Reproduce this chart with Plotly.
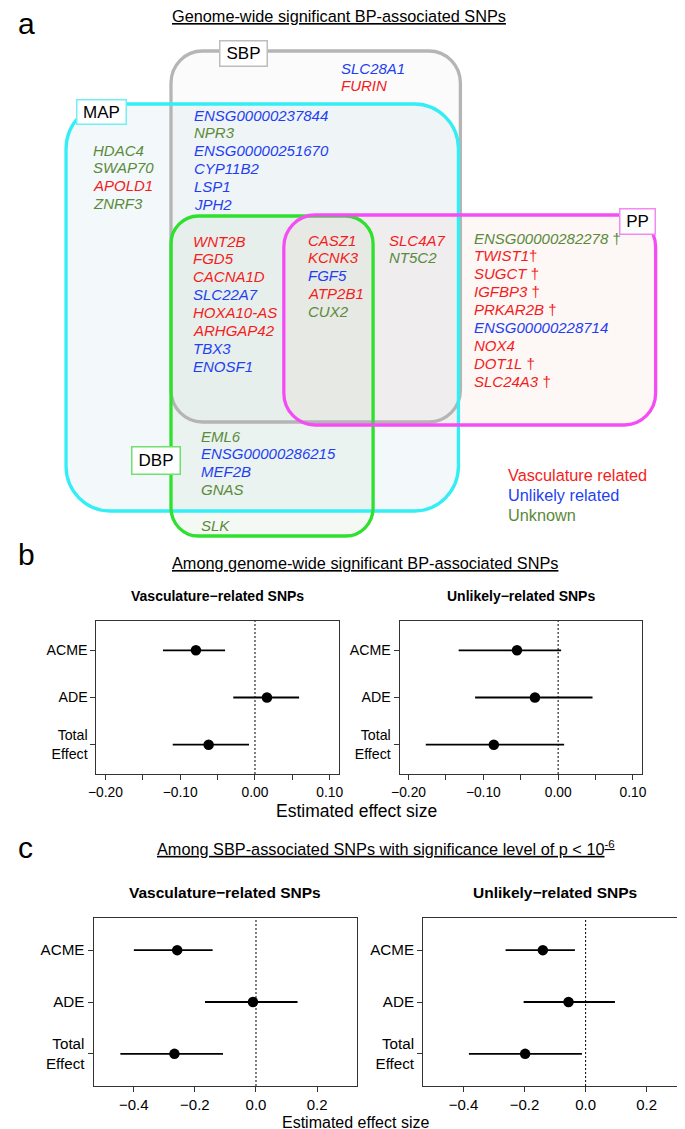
import plotly.graph_objects as go

W, H = 685, 1129
FONT = "Liberation Sans, Arial, sans-serif"

# ---------------- Panel a data: genes per Venn region ----------------
# class codes: V = vasculature related, U = unlikely related, K = unknown
sbp_only_genes = ["SLC28A1", "FURIN"]
sbp_only_class = ["U", "V"]
sbp_map_genes = ["ENSG00000237844", "NPR3", "ENSG00000251670", "CYP11B2", "LSP1", "JPH2"]
sbp_map_class = ["U", "K", "U", "U", "U", "U"]
map_only_genes = ["HDAC4", "SWAP70", "APOLD1", "ZNRF3"]
map_only_class = ["K", "K", "V", "K"]
sbp_map_dbp_genes = ["WNT2B", "FGD5", "CACNA1D", "SLC22A7", "HOXA10-AS", "ARHGAP42", "TBX3", "ENOSF1"]
sbp_map_dbp_class = ["V", "V", "V", "U", "V", "V", "U", "U"]
all_four_genes = ["CASZ1", "KCNK3", "FGF5", "ATP2B1", "CUX2"]
all_four_class = ["V", "V", "U", "V", "K"]
sbp_map_pp_genes = ["SLC4A7", "NT5C2"]
sbp_map_pp_class = ["V", "K"]
pp_only_genes = ["ENSG00000282278 †", "TWIST1†", "SUGCT †", "IGFBP3 †", "PRKAR2B †",
                 "ENSG00000228714", "NOX4", "DOT1L †", "SLC24A3 †"]
pp_only_class = ["K", "V", "V", "V", "V", "U", "V", "V", "V"]
map_dbp_genes = ["EML6", "ENSG00000286215", "MEF2B", "GNAS"]
map_dbp_class = ["K", "U", "U", "K"]
dbp_only_genes = ["SLK"]
dbp_only_class = ["K"]

class_codes = ["V", "U", "K"]
class_names = ["Vasculature related", "Unlikely related", "Unknown"]
set_names = ["SBP", "MAP", "PP", "DBP"]

# ---------------- Panels b, c data ----------------
effect_labels = ["ACME", "ADE", "Total<br>Effect"]
effect_pos = [3, 2, 1]

b_vasc_est = [-0.079, 0.016, -0.062]
b_vasc_lo = [-0.123, -0.029, -0.110]
b_vasc_hi = [-0.040, 0.059, -0.008]
b_unl_est = [-0.055, -0.031, -0.086]
b_unl_lo = [-0.133, -0.111, -0.177]
b_unl_hi = [0.004, 0.046, 0.008]

c_vasc_est = [-0.258, -0.010, -0.267]
c_vasc_lo = [-0.400, -0.167, -0.444]
c_vasc_hi = [-0.142, 0.136, -0.108]
c_unl_est = [-0.140, -0.056, -0.198]
c_unl_lo = [-0.262, -0.203, -0.382]
c_unl_hi = [-0.035, 0.096, -0.012]

b_xlim = [-0.2, 0.1]
b_ticks = [-0.20, -0.10, 0.00, 0.10]
b_ticklabels = ["−0.20", "−0.10", "0.00", "0.10"]
b_minor_ticks = [-0.15, -0.05, 0.05]
c_xlim = [-0.5, 0.3]
c_ticks = [-0.4, -0.2, 0.0, 0.2]
c_ticklabels = ["−0.4", "−0.2", "0.0", "0.2"]
c_minor_ticks = []

# ---------------- styles / layout constants ----------------
CLASS_COLOR = {"V": "#f41c1c", "U": "#1f3ff2", "K": "#5b8a3c"}
LINE_STEP = 17.9
REGION_ANCHORS = [  # genes, classes, left x, first line y (canvas px)
    (sbp_only_genes, sbp_only_class, 329, 60),
    (sbp_map_genes, sbp_map_class, 179, 107),
    (map_only_genes, map_only_class, 76, 142),
    (sbp_map_dbp_genes, sbp_map_dbp_class, 178, 233),
    (all_four_genes, all_four_class, 296, 232),
    (sbp_map_pp_genes, sbp_map_pp_class, 378, 232),
    (pp_only_genes, pp_only_class, 465, 230),
    (map_dbp_genes, map_dbp_class, 187, 428),
    (dbp_only_genes, dbp_only_class, 187, 517),
]
SET_STYLE = {  # x0, y0, x1, y1, radius, line, fill, label box (cx, cy, w, h), label border
    "SBP": (158, 43, 453, 414, 32, "#b5b5b5", "rgba(190,190,190,0.06)", (231.5, 45.5, 49, 27), "#bdbdbd"),
    "MAP": (51, 96, 451, 503, 45, "#33eef5", "rgba(185,212,228,0.17)", (87.5, 104, 51, 26), "#70f0f5"),
    "PP": (273, 207, 652, 417, 32, "#f54df5", "rgba(240,190,175,0.13)", (633.5, 213.5, 37, 27), "#f28af2"),
    "DBP": (158, 208, 364, 528, 28, "#2fe02f", "rgba(190,212,180,0.15)", (143, 452.5, 50, 29), "#70e070"),
}
OUTLINE_ORDER = ["SBP", "MAP", "DBP", "PP"]


def rounded_rect_path(x0, y0, x1, y1, r):
    k = 0.5523 * r
    return (f"M {x0+r},{y0} L {x1-r},{y0} C {x1-r+k},{y0} {x1},{y0+r-k} {x1},{y0+r} "
            f"L {x1},{y1-r} C {x1},{y1-r+k} {x1-r+k},{y1} {x1-r},{y1} "
            f"L {x0+r},{y1} C {x0+r-k},{y1} {x0},{y1-r+k} {x0},{y1-r} "
            f"L {x0},{y0+r} C {x0},{y0+r-k} {x0+r-k},{y0} {x0+r},{y0} Z")


fig = go.Figure()
shapes = []
annotations = []

# canvas axis (pixel coordinates) for the diagram and texts
fig.add_trace(go.Scatter(x=[0], y=[0], xaxis="x5", yaxis="y5", mode="markers",
                         marker=dict(size=1, color="rgba(0,0,0,0)"),
                         showlegend=False, hoverinfo="skip"))


def canvas_text(x, y, text, size, color="black", xanchor="center", family=FONT, **kw):
    annotations.append(dict(x=x, y=y, xref="x5", yref="y5", text=text, showarrow=False,
                            xanchor=xanchor, yanchor="middle",
                            font=dict(family=family, size=size, color=color), **kw))


# set fills
for name in set_names:
    x0, y0, x1, y1, r, lc, fc, lab, lbc = SET_STYLE[name]
    shapes.append(dict(type="path", xref="x5", yref="y5", path=rounded_rect_path(x0, y0, x1, y1, r),
                       fillcolor=fc, line=dict(width=0)))
# set outlines
for name in OUTLINE_ORDER:
    x0, y0, x1, y1, r, lc, fc, lab, lbc = SET_STYLE[name]
    shapes.append(dict(type="path", xref="x5", yref="y5", path=rounded_rect_path(x0, y0, x1, y1, r),
                       fillcolor="rgba(0,0,0,0)", line=dict(width=3.3, color=lc)))
# set labels
for name in set_names:
    x0, y0, x1, y1, r, lc, fc, (cx, cy, bw, bh), lbc = SET_STYLE[name]
    canvas_text(cx, cy, name, 17, bgcolor="white", bordercolor=lbc, borderwidth=1.5,
                borderpad=0, width=bw - 3, height=bh - 3)

# gene names
for genes, classes, gx, gy in REGION_ANCHORS:
    for i, (g, c) in enumerate(zip(genes, classes)):
        if "†" in g:
            base = g.split("†")[0]
            sp = " " if base.endswith(" ") else ""
            txt = f"<i>{base.strip()}</i>{sp}†"
        else:
            txt = f"<i>{g}</i>"
        canvas_text(gx, gy + i * LINE_STEP, txt, 15, color=CLASS_COLOR[c], xanchor="left")

# legend
for i, (code, nm) in enumerate(zip(class_codes, class_names)):
    canvas_text(499, 467 + i * 20, nm, 16.3, color=CLASS_COLOR[code], xanchor="left")

# panel letters and titles
canvas_text(0, 15, "a", 30, xanchor="left")
canvas_text(0, 546.5, "b", 30, xanchor="left")
canvas_text(0, 839, "c", 30, xanchor="left")
canvas_text(157, 8, "<u>Genome-wide significant BP-associated SNPs</u>", 16.3, xanchor="left")
canvas_text(157, 555, "<u>Among genome-wide significant BP-associated SNPs</u>", 16.3, xanchor="left")
canvas_text(142, 840, "<u>Among SBP-associated SNPs with significance level of p &lt; 10<sup>-6</sup></u>",
            16.3, xanchor="left")

# ---------------- forest panels ----------------
PANELS = [  # est, lo, hi, xlim, ticks, labels, minor, box(px), title, title y, fonts
    (b_vasc_est, b_vasc_lo, b_vasc_hi, b_xlim, b_ticks, b_ticklabels, b_minor_ticks, (82, 613, 329, 766),
     "Vasculature−related SNPs", 588, 14, 13.8, 14.2),
    (b_unl_est, b_unl_lo, b_unl_hi, b_xlim, b_ticks, b_ticklabels, b_minor_ticks, (391, 613, 638, 766),
     "Unlikely−related SNPs", 588, 14, 13.8, 14.2),
    (c_vasc_est, c_vasc_lo, c_vasc_hi, c_xlim, c_ticks, c_ticklabels, c_minor_ticks, (79, 910, 348, 1078),
     "Vasculature−related SNPs", 884.5, 15.5, 15, 15.2),
    (c_unl_est, c_unl_lo, c_unl_hi, c_xlim, c_ticks, c_ticklabels, c_minor_ticks, (415, 910, 684, 1078),
     "Unlikely−related SNPs", 884.5, 15.5, 15, 15.2),
]
AXIS_COLOR = "#333333"
layout_axes = {}
for k, (est, lo, hi, xlim, tv, tt, mv, (bx0, by0, bx1, by1), title, ty, tfs, xfs, yfs) in enumerate(PANELS, start=1):
    xa = "x" if k == 1 else f"x{k}"
    ya = "y" if k == 1 else f"y{k}"
    fig.add_trace(go.Scatter(
        x=est, y=effect_pos, mode="markers", xaxis=xa, yaxis=ya, showlegend=False,
        marker=dict(size=10.5, color="black"),
        error_x=dict(type="data", symmetric=False,
                     array=[h - e for h, e in zip(hi, est)],
                     arrayminus=[e - l for e, l in zip(est, lo)],
                     width=0, thickness=1.8, color="black")))
    pad = 0.04 * (xlim[1] - xlim[0])
    common = dict(showline=True, mirror=True, linecolor=AXIS_COLOR, linewidth=1,
                  ticks="outside", ticklen=5, tickwidth=1, tickcolor=AXIS_COLOR,
                  showgrid=False, zeroline=False, fixedrange=True)
    xdef = dict(domain=[bx0 / W, bx1 / W], range=[xlim[0] - pad, xlim[1] + pad], anchor=ya,
                tickmode="array", tickvals=tv, ticktext=tt,
                tickfont=dict(family=FONT, size=xfs, color="black"), **common)
    if mv:
        xdef["minor"] = dict(tickmode="array", tickvals=mv, ticks="outside", ticklen=5,
                             tickwidth=1, tickcolor=AXIS_COLOR, showgrid=False)
    layout_axes["xaxis" if k == 1 else f"xaxis{k}"] = xdef
    layout_axes["yaxis" if k == 1 else f"yaxis{k}"] = dict(
        domain=[1 - by1 / H, 1 - by0 / H], range=[0.5 - 0.12, 3.5 + 0.12], anchor=xa,
        tickmode="array", tickvals=effect_pos, ticktext=effect_labels,
        tickfont=dict(family=FONT, size=yfs, color="black"), **common)
    shapes.append(dict(type="line", xref=xa, yref=f"{ya} domain", x0=0, x1=0, y0=0, y1=1,
                       line=dict(color="black", width=1, dash="2px,2px")))
    canvas_text((bx0 + bx1) / 2, ty, f"<b>{title}</b>", tfs)

canvas_text(347, 803, "Estimated effect size", 17.5)
canvas_text(346, 1114.5, "Estimated effect size", 16)

fig.update_layout(
    width=W, height=H, autosize=False,
    margin=dict(l=0, r=0, t=0, b=0),
    paper_bgcolor="white", plot_bgcolor="rgba(0,0,0,0)",
    showlegend=False,
    xaxis5=dict(domain=[0, 1], range=[0, W], visible=False, fixedrange=True, anchor="y5"),
    yaxis5=dict(domain=[0, 1], range=[H, 0], visible=False, fixedrange=True, anchor="x5"),
    shapes=shapes, annotations=annotations,
    **layout_axes,
)

fig.write_html("out.html")
